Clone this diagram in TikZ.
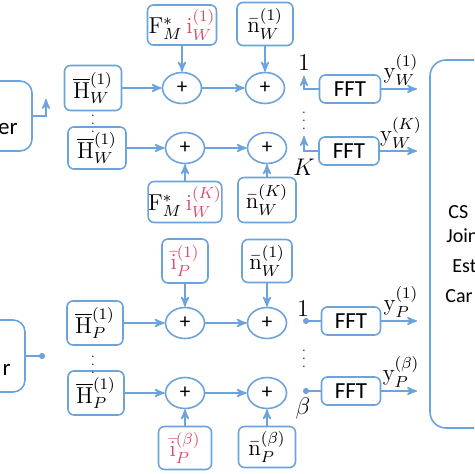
\documentclass[tikz,border=0pt]{standalone}
\usepackage{fontspec}
\newfontfamily\carlito{Carlito}
\usepackage{tikz}
\usetikzlibrary{arrows,arrows.meta}
\usetikzlibrary{calc,shapes}
\usepackage{amssymb}
\usepackage{color}
\definecolor{lineblue}{RGB}{108,163,220}
\definecolor{pinkred}{RGB}{214,76,102}
\newcommand{\rd}[1]{\textcolor{pinkred}{#1}}

\begin{document}
\begin{tikzpicture}[x=0.5pt,y=-0.5pt,>=stealth',
  blk/.style={draw=lineblue,line width=0.8pt,rounded corners=3pt,inner sep=0pt,font=\fontsize{11.5}{13}\selectfont},
  sumnode/.style={draw=lineblue,line width=0.8pt,ellipse,inner sep=0pt,minimum width=19.5pt,minimum height=15.5pt,font=\carlito\fontsize{10.5}{12}\selectfont},
  fftbox/.style={blk,font=\carlito\fontsize{11.5}{13}\selectfont,minimum width=30.5pt,minimum height=14pt},
  wire/.style={draw=lineblue,line width=0.8pt},
  dotend/.style={-{Circle[length=3pt]}},
  lbl/.style={inner sep=0pt,font=\fontsize{11.5}{13}\selectfont},
  frag/.style={inner sep=0pt,font=\carlito\fontsize{11.5}{13}\selectfont},
  side/.style={frag,font=\carlito\fontsize{10}{12}\selectfont,anchor=base west},
  vdt/.style={inner sep=0pt,font=\fontsize{6}{7}\selectfont}]

\useasboundingbox (0,0) rectangle (474,474);
\clip (0,0) rectangle (474,474);

% Blocs partiellement visibles
\node[blk,rounded corners=6pt,minimum width=50pt,minimum height=35pt] (lw) at (-18,116) {};
\node[blk,rounded corners=6pt,minimum width=50pt,minimum height=36pt] (lp) at (-25,356) {};
\node[frag,anchor=base east] (lwtxt) at (18,135) {er};
\node[frag,anchor=base east] (lptxt) at (11,375) {r};
\node[blk,rounded corners=8pt,minimum width=75pt,minimum height=184pt] (est) at (505,244) {};
\node[side] (t1) at (448,219) {CS};
\node[side] (t2) at (446,243) {Join};
\node[side] (t3) at (452,273) {Est};
\node[side] (t4) at (445,303) {Car};

% Branche W
\node[blk,minimum width=28.5pt,minimum height=22.5pt] (hw1) at (93,88) {$\overline{\mathrm{H}}_W^{(1)}$};
\node[blk,minimum width=29pt,minimum height=21pt] (hwk) at (97,148) {$\overline{\mathrm{H}}_W^{(1)}$};
\node[vdt] (dw1) at (93,118) {$\vdots$};
\node[blk,minimum width=34.5pt,minimum height=20pt] (fw1) at (182,25) {$\mathrm{F}_M^*\,\rd{\mathrm{i}_W^{(1)}}$};
\node[blk,minimum width=35.5pt,minimum height=20.5pt] (fwk) at (185,202) {$\mathrm{F}_M^*\,\rd{\mathrm{i}_W^{(K)}}$};
\node[blk,minimum width=28pt,minimum height=21.5pt] (nw1) at (265,24) {$\bar{\mathrm{n}}_W^{(1)}$};
\node[blk,minimum width=29pt,minimum height=22.5pt] (nwk) at (267,200) {$\bar{\mathrm{n}}_W^{(K)}$};
\node[sumnode] (sw1) at (182,88) {+};
\node[sumnode] (swk) at (185,148) {+};
\node[sumnode] (sw3) at (265,88) {+};
\node[sumnode] (sw4) at (267,148) {+};
\node[fftbox] (fft1) at (350,89) {FFT};
\node[fftbox,minimum width=30pt] (fft2) at (349,151) {FFT};
\coordinate (kw1) at (304,76);
\coordinate (kw2) at (304,136);
\coordinate (ow1) at (417,89);
\coordinate (ow2) at (417,151);
\coordinate (lsw) at (46,99);
\node[lbl] (n1w) at (304,63) {$1$};
\node[lbl] (nkw) at (304,167) {$K$};
\node[vdt] (dw2) at (304,115) {$\vdots$};
\node[lbl] (yw1) at (401,70) {$\mathrm{y}_W^{(1)}$};
\node[lbl] (ywk) at (401,133) {$\mathrm{y}_W^{(K)}$};

\draw[wire,->] (lw.east) -| (lsw);
\draw[wire,->] (hw1) -- (sw1);
\draw[wire,->] (hwk) -- (swk);
\draw[wire,->] (fw1) -- (sw1);
\draw[wire,->] (fwk) -- (swk);
\draw[wire,->] (sw1) -- (sw3);
\draw[wire,->] (swk) -- (sw4);
\draw[wire,->] (nw1) -- (sw3);
\draw[wire,->] (nwk) -- (sw4);
\draw[wire,->] (fft1.west) -| (kw1);
\draw[wire,->] (fft2.west) -| (kw2);
\draw[wire,->] (fft1) -- (ow1);
\draw[wire,->] (fft2) -- (ow2);

% Branche P
\node[blk,minimum width=28pt,minimum height=22pt] (hp1) at (95,323) {$\overline{\mathrm{H}}_P^{(1)}$};
\node[blk,minimum width=28pt,minimum height=22pt] (hpb) at (96,393) {$\overline{\mathrm{H}}_P^{(1)}$};
\node[vdt] (dp1) at (93,359) {$\vdots$};
\node[blk,minimum width=23pt,minimum height=22pt] (ip1) at (185,261) {$\rd{\bar{\mathrm{i}}_P^{(1)}}$};
\node[blk,minimum width=26.5pt,minimum height=21.5pt] (ipb) at (185,448) {$\rd{\bar{\mathrm{i}}_P^{(\beta)}}$};
\node[blk,minimum width=25pt,minimum height=21.5pt] (np1) at (267,261) {$\bar{\mathrm{n}}_W^{(1)}$};
\node[blk,minimum width=28.5pt,minimum height=20.5pt] (npb) at (267,447) {$\bar{\mathrm{n}}_P^{(\beta)}$};
\node[sumnode] (sp1) at (185,323) {+};
\node[sumnode] (spb) at (185,393) {+};
\node[sumnode] (sp3) at (267,323) {+};
\node[sumnode] (sp4) at (267,393) {+};
\node[fftbox,minimum width=29.5pt] (fft3) at (351,321) {FFT};
\node[fftbox,minimum width=29.5pt] (fft4) at (351,391) {FFT};
\coordinate (kp1) at (303,321);
\coordinate (kp2) at (303,391);
\coordinate (op1) at (417,321);
\coordinate (op2) at (417,391);
\coordinate (lpw) at (45,356);
\node[lbl] (n1p) at (303,309) {$1$};
\node[lbl] (nbp) at (303,408) {$\beta$};
\node[vdt] (dp2) at (304,353) {$\vdots$};
\node[lbl] (yp1) at (401,302) {$\mathrm{y}_P^{(1)}$};
\node[lbl] (ypb) at (401,372) {$\mathrm{y}_P^{(\beta)}$};

\draw[wire,dotend] (lp.east |- lpw) -- (lpw);
\draw[wire,->] (hp1) -- (sp1);
\draw[wire,->] (hpb) -- (spb);
\draw[wire,->] (ip1) -- (sp1);
\draw[wire,->] (ipb) -- (spb);
\draw[wire,->] (sp1) -- (sp3);
\draw[wire,->] (spb) -- (sp4);
\draw[wire,->] (np1) -- (sp3);
\draw[wire,->] (npb) -- (sp4);
\draw[wire,dotend] (fft3.west) -- (kp1);
\draw[wire,dotend] (fft4.west) -- (kp2);
\draw[wire,->] (fft3) -- (op1);
\draw[wire,->] (fft4) -- (op2);
\end{tikzpicture}
\end{document}
